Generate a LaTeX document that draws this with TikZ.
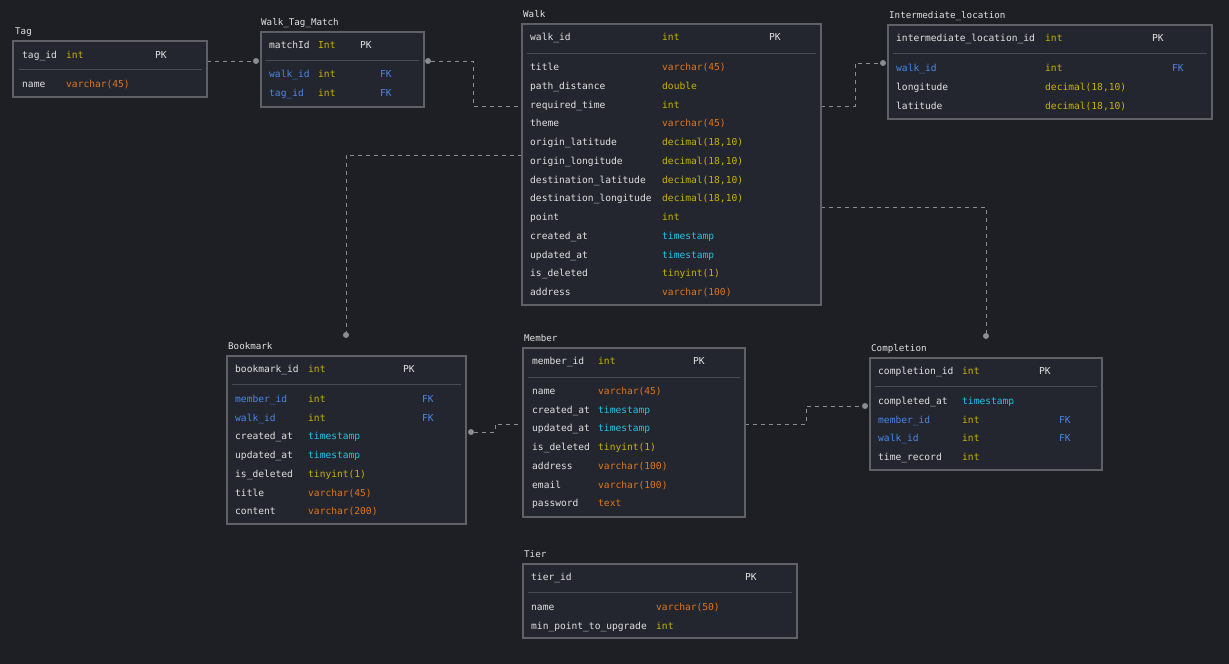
\documentclass[tikz,border=0pt]{standalone}
\usepackage{fontspec}
\setmonofont{DejaVu Sans Mono}
\definecolor{bg}{HTML}{1E1F24}
\definecolor{boxf}{HTML}{23262E}
\definecolor{boxd}{HTML}{5F6167}
\definecolor{sep}{HTML}{4A4D55}
\definecolor{tw}{HTML}{E2E2E2}
\definecolor{ty}{HTML}{C8B400}
\definecolor{to}{HTML}{E0761C}
\definecolor{tc}{HTML}{22C3E6}
\definecolor{tb}{HTML}{4A86E8}
\definecolor{ln}{HTML}{8A8C90}
\newcommand\fe[4]{\node[anchor=base west,inner sep=0pt,text=#1,font=\ttfamily\fontsize{9.6}{10}\selectfont] at (#2,#3+3.5) {#4};}
\newcommand\tl[3]{\node[anchor=base west,inner sep=0pt,text=tw,font=\ttfamily\fontsize{9.2}{10}\selectfont] at (#1,#2+3.5) {#3};}
\tikzset{tbox/.style={draw=boxd,fill=boxf,line width=1.6pt},
sepl/.style={draw=sep,line width=1pt},
rel/.style={draw=ln,line width=1pt,dash pattern=on 4pt off 4pt},
endot/.style={circle,fill=ln,inner sep=0pt,minimum size=6pt}}
\begin{document}
\begin{tikzpicture}[x=1pt,y=-1pt]
\fill[bg] (0,0) rectangle (1229,664);
\useasboundingbox (0,0) rectangle (1229,664);
% connectors
\coordinate (c1a) at (207,61); \node[endot] (d1) at (256,61) {};
\draw[rel] (c1a) -- (d1);
\node[endot] (d2) at (428,61) {}; \coordinate (c2b) at (522,106);
\draw[rel] (d2) -- (473,61) -- (473,106) -- (c2b);
\coordinate (c3a) at (522,155); \node[endot] (d3) at (346,335) {};
\draw[rel] (c3a) -- (346,155) -- (d3);
\coordinate (c4a) at (821,207); \node[endot] (d4) at (986,336) {};
\draw[rel] (c4a) -- (986,207) -- (d4);
\coordinate (c5a) at (821,106); \node[endot] (d5) at (883,63) {};
\draw[rel] (c5a) -- (855,106) -- (855,63) -- (d5);
\node[endot] (d6) at (471,432) {}; \coordinate (c6b) at (523,424);
\draw[rel] (d6) -- (495,432) -- (495,424) -- (c6b);
\coordinate (c7a) at (745,424); \node[endot] (d7) at (865,406) {};
\draw[rel] (c7a) -- (806,424) -- (806,406) -- (d7);
% Tag
\tl{15}{31}{Tag}
\draw[tbox] (13,41) rectangle (207,97); \coordinate (tag) at (13,41);
\fe{tw}{22}{55}{tag\_id}\fe{ty}{66}{55}{int}\fe{tw}{155}{55}{PK}
\draw[sepl] (19,69) -- (202,69);
\fe{tw}{22}{84}{name}\fe{to}{66}{84}{varchar(45)}
% WTM
\tl{261}{22}{Walk\_Tag\_Match}
\draw[tbox] (261,32) rectangle (424,107);
\fe{tw}{269}{45}{matchId}\fe{ty}{318}{45}{Int}\fe{tw}{360}{45}{PK}
\draw[sepl] (265,60) -- (419,60);
\fe{tb}{269}{74}{walk\_id}\fe{ty}{318}{74}{int}\fe{tb}{380}{74}{FK}
\fe{tb}{269}{93}{tag\_id}\fe{ty}{318}{93}{int}\fe{tb}{380}{93}{FK}
% Walk
\tl{523}{14}{Walk}
\draw[tbox] (522,24) rectangle (821,305);
\fe{tw}{530}{37}{walk\_id}\fe{ty}{662}{37}{int}\fe{tw}{769}{37}{PK}
\draw[sepl] (527,53) -- (816,53);
\foreach \n/\t/\c [count=\i from 0] in {title/varchar(45)/to,path\_distance/double/ty,required\_time/int/ty,theme/varchar(45)/to,origin\_latitude/decimal(18{,}10)/ty,origin\_longitude/decimal(18{,}10)/ty,destination\_latitude/decimal(18{,}10)/ty,destination\_longitude/decimal(18{,}10)/ty,point/int/ty,created\_at/timestamp/tc,updated\_at/timestamp/tc,is\_deleted/tinyint(1)/ty,address/varchar(100)/to}
{\fe{tw}{530}{67+\i*18.75}{\n}\fe{\c}{662}{67+\i*18.75}{\t}}
% Intermediate
\tl{889}{15}{Intermediate\_location}
\draw[tbox] (888,25) rectangle (1212,119);
\fe{tw}{896}{38}{intermediate\_location\_id}\fe{ty}{1045}{38}{int}\fe{tw}{1152}{38}{PK}
\draw[sepl] (893,53) -- (1207,53);
\fe{tb}{896}{68}{walk\_id}\fe{ty}{1045}{68}{int}\fe{tb}{1172}{68}{FK}
\fe{tw}{896}{87}{longitude}\fe{ty}{1045}{87}{decimal(18,10)}
\fe{tw}{896}{106}{latitude}\fe{ty}{1045}{106}{decimal(18,10)}
% Bookmark
\tl{228}{346}{Bookmark}
\draw[tbox] (227,356) rectangle (466,524);
\fe{tw}{235}{369}{bookmark\_id}\fe{ty}{308}{369}{int}\fe{tw}{403}{369}{PK}
\draw[sepl] (232,384) -- (461,384);
\fe{tb}{235}{399}{member\_id}\fe{ty}{308}{399}{int}\fe{tb}{422}{399}{FK}
\fe{tb}{235}{418}{walk\_id}\fe{ty}{308}{418}{int}\fe{tb}{422}{418}{FK}
\fe{tw}{235}{436}{created\_at}\fe{tc}{308}{436}{timestamp}
\fe{tw}{235}{455}{updated\_at}\fe{tc}{308}{455}{timestamp}
\fe{tw}{235}{474}{is\_deleted}\fe{ty}{308}{474}{tinyint(1)}
\fe{tw}{235}{493}{title}\fe{to}{308}{493}{varchar(45)}
\fe{tw}{235}{511}{content}\fe{to}{308}{511}{varchar(200)}
% Member
\tl{524}{338}{Member}
\draw[tbox] (523,348) rectangle (745,517);
\fe{tw}{532}{361}{member\_id}\fe{ty}{598}{361}{int}\fe{tw}{693}{361}{PK}
\draw[sepl] (528,377) -- (740,377);
\fe{tw}{532}{391}{name}\fe{to}{598}{391}{varchar(45)}
\fe{tw}{532}{410}{created\_at}\fe{tc}{598}{410}{timestamp}
\fe{tw}{532}{428}{updated\_at}\fe{tc}{598}{428}{timestamp}
\fe{tw}{532}{447}{is\_deleted}\fe{ty}{598}{447}{tinyint(1)}
\fe{tw}{532}{466}{address}\fe{to}{598}{466}{varchar(100)}
\fe{tw}{532}{485}{email}\fe{to}{598}{485}{varchar(100)}
\fe{tw}{532}{503}{password}\fe{to}{598}{503}{text}
% Completion
\tl{871}{348}{Completion}
\draw[tbox] (870,358) rectangle (1102,470);
\fe{tw}{878}{371}{completion\_id}\fe{ty}{962}{371}{int}\fe{tw}{1039}{371}{PK}
\draw[sepl] (875,386) -- (1097,386);
\fe{tw}{878}{401}{completed\_at}\fe{tc}{962}{401}{timestamp}
\fe{tb}{878}{420}{member\_id}\fe{ty}{962}{420}{int}\fe{tb}{1059}{420}{FK}
\fe{tb}{878}{438}{walk\_id}\fe{ty}{962}{438}{int}\fe{tb}{1059}{438}{FK}
\fe{tw}{878}{457}{time\_record}\fe{ty}{962}{457}{int}
% Tier
\tl{524}{554}{Tier}
\draw[tbox] (523,564) rectangle (797,638);
\fe{tw}{531}{577}{tier\_id}\fe{tw}{745}{577}{PK}
\draw[sepl] (528,592) -- (792,592);
\fe{tw}{531}{607}{name}\fe{to}{656}{607}{varchar(50)}
\fe{tw}{531}{626}{min\_point\_to\_upgrade}\fe{ty}{656}{626}{int}
\end{tikzpicture}
\end{document}
